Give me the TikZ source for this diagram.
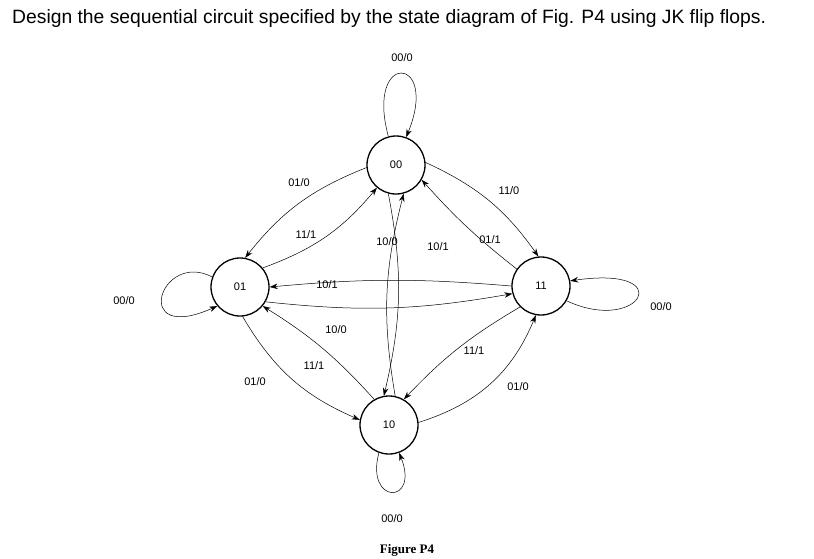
\documentclass[tikz,border=0pt]{standalone}
\usepackage{fontspec}
\setmainfont{Liberation Sans}
\newfontfamily\serifb{Liberation Serif}
\usetikzlibrary{arrows.meta}
\begin{document}
\begin{tikzpicture}[x=1pt,y=-1pt,
  st/.style={circle,draw,line width=1.3pt,minimum size=58pt,inner sep=0pt,font=\fontsize{11}{12}\selectfont},
  tr/.style={draw,line width=0.5pt,-{Stealth[length=8pt,width=5.5pt]}},
  lb/.style={font=\fontsize{11}{12}\selectfont,inner sep=1pt}]
\useasboundingbox (0,0) rectangle (814,558);
\node[anchor=west,font=\fontsize{19.3}{21}\selectfont,inner sep=0pt] (title) at (12,19) {Design the sequential circuit specified by the state diagram of Fig. P4 using JK flip flops.};
\node[font=\serifb\bfseries\fontsize{13}{14}\selectfont] (fig) at (407,550) {Figure P4};
\node[st] (s00) at (396,165) {00};
\node[st] (s01) at (240,287) {01};
\node[st] (s11) at (541,286) {11};
\node[st] (s10) at (389,425) {10};
% self loops
\draw[tr] (s00.105) .. controls (365,50) and (440,55) .. (s00.70);
\node[lb] (l1) at (402,58) {00/0};
\draw[tr] (s01.160) .. controls (160,250) and (130,345) .. (s01.220);
\node[lb] (l2) at (124,301) {00/0};
\draw[tr] (s11.330) .. controls (640,335) and (680,265) .. (s11.10);
\node[lb] (l3) at (661,307) {00/0};
\draw[tr] (s10.250) .. controls (365,505) and (420,505) .. (s10.290);
\node[lb] (l4) at (392,519) {00/0};
% transitions
\draw[tr] (s00.185) to[bend right=15] (s01.80);
\node[lb] (a) at (299,183) {01/0};
\draw[tr] (s01.40) to[bend right=15] (s00.230);
\node[lb] (b) at (306,235) {11/1};
\draw[tr] (s00.255) to[bend left=12] (s10.100);
\node[lb] (c) at (387,242) {10/0};
\draw[tr] (s10.78) to[bend left=12] (s00.285);
\node[lb] (d) at (438,247) {10/1};
\draw[tr] (s11.145) to[bend left=5] (s00.330);
\node[lb] (e) at (490,240) {01/1};
\draw[tr] (s00.5) to[bend left=15] (s11.95);
\node[lb] (f) at (509,191) {11/0};
\draw[tr] (s11.180) to[bend right=5] (s01.0);
\node[lb] (g) at (327,285) {10/1};
\draw[tr] (s01.330) to[bend right=8] (s11.195);
\node[lb] (h) at (336,330) {10/0};
\draw[tr] (s01.275) to[bend right=18] (s10.170);
\node[lb] (i) at (255,382) {01/0};
\draw[tr] (s10.120) to[bend right=8] (s01.320);
\node[lb] (j) at (314,366) {11/1};
\draw[tr] (s11.225) to[bend right=8] (s10.60);
\node[lb] (k) at (474,351) {11/1};
\draw[tr] (s10.5) to[bend right=25] (s11.260);
\node[lb] (m) at (518,387) {01/0};
\end{tikzpicture}
\end{document}
